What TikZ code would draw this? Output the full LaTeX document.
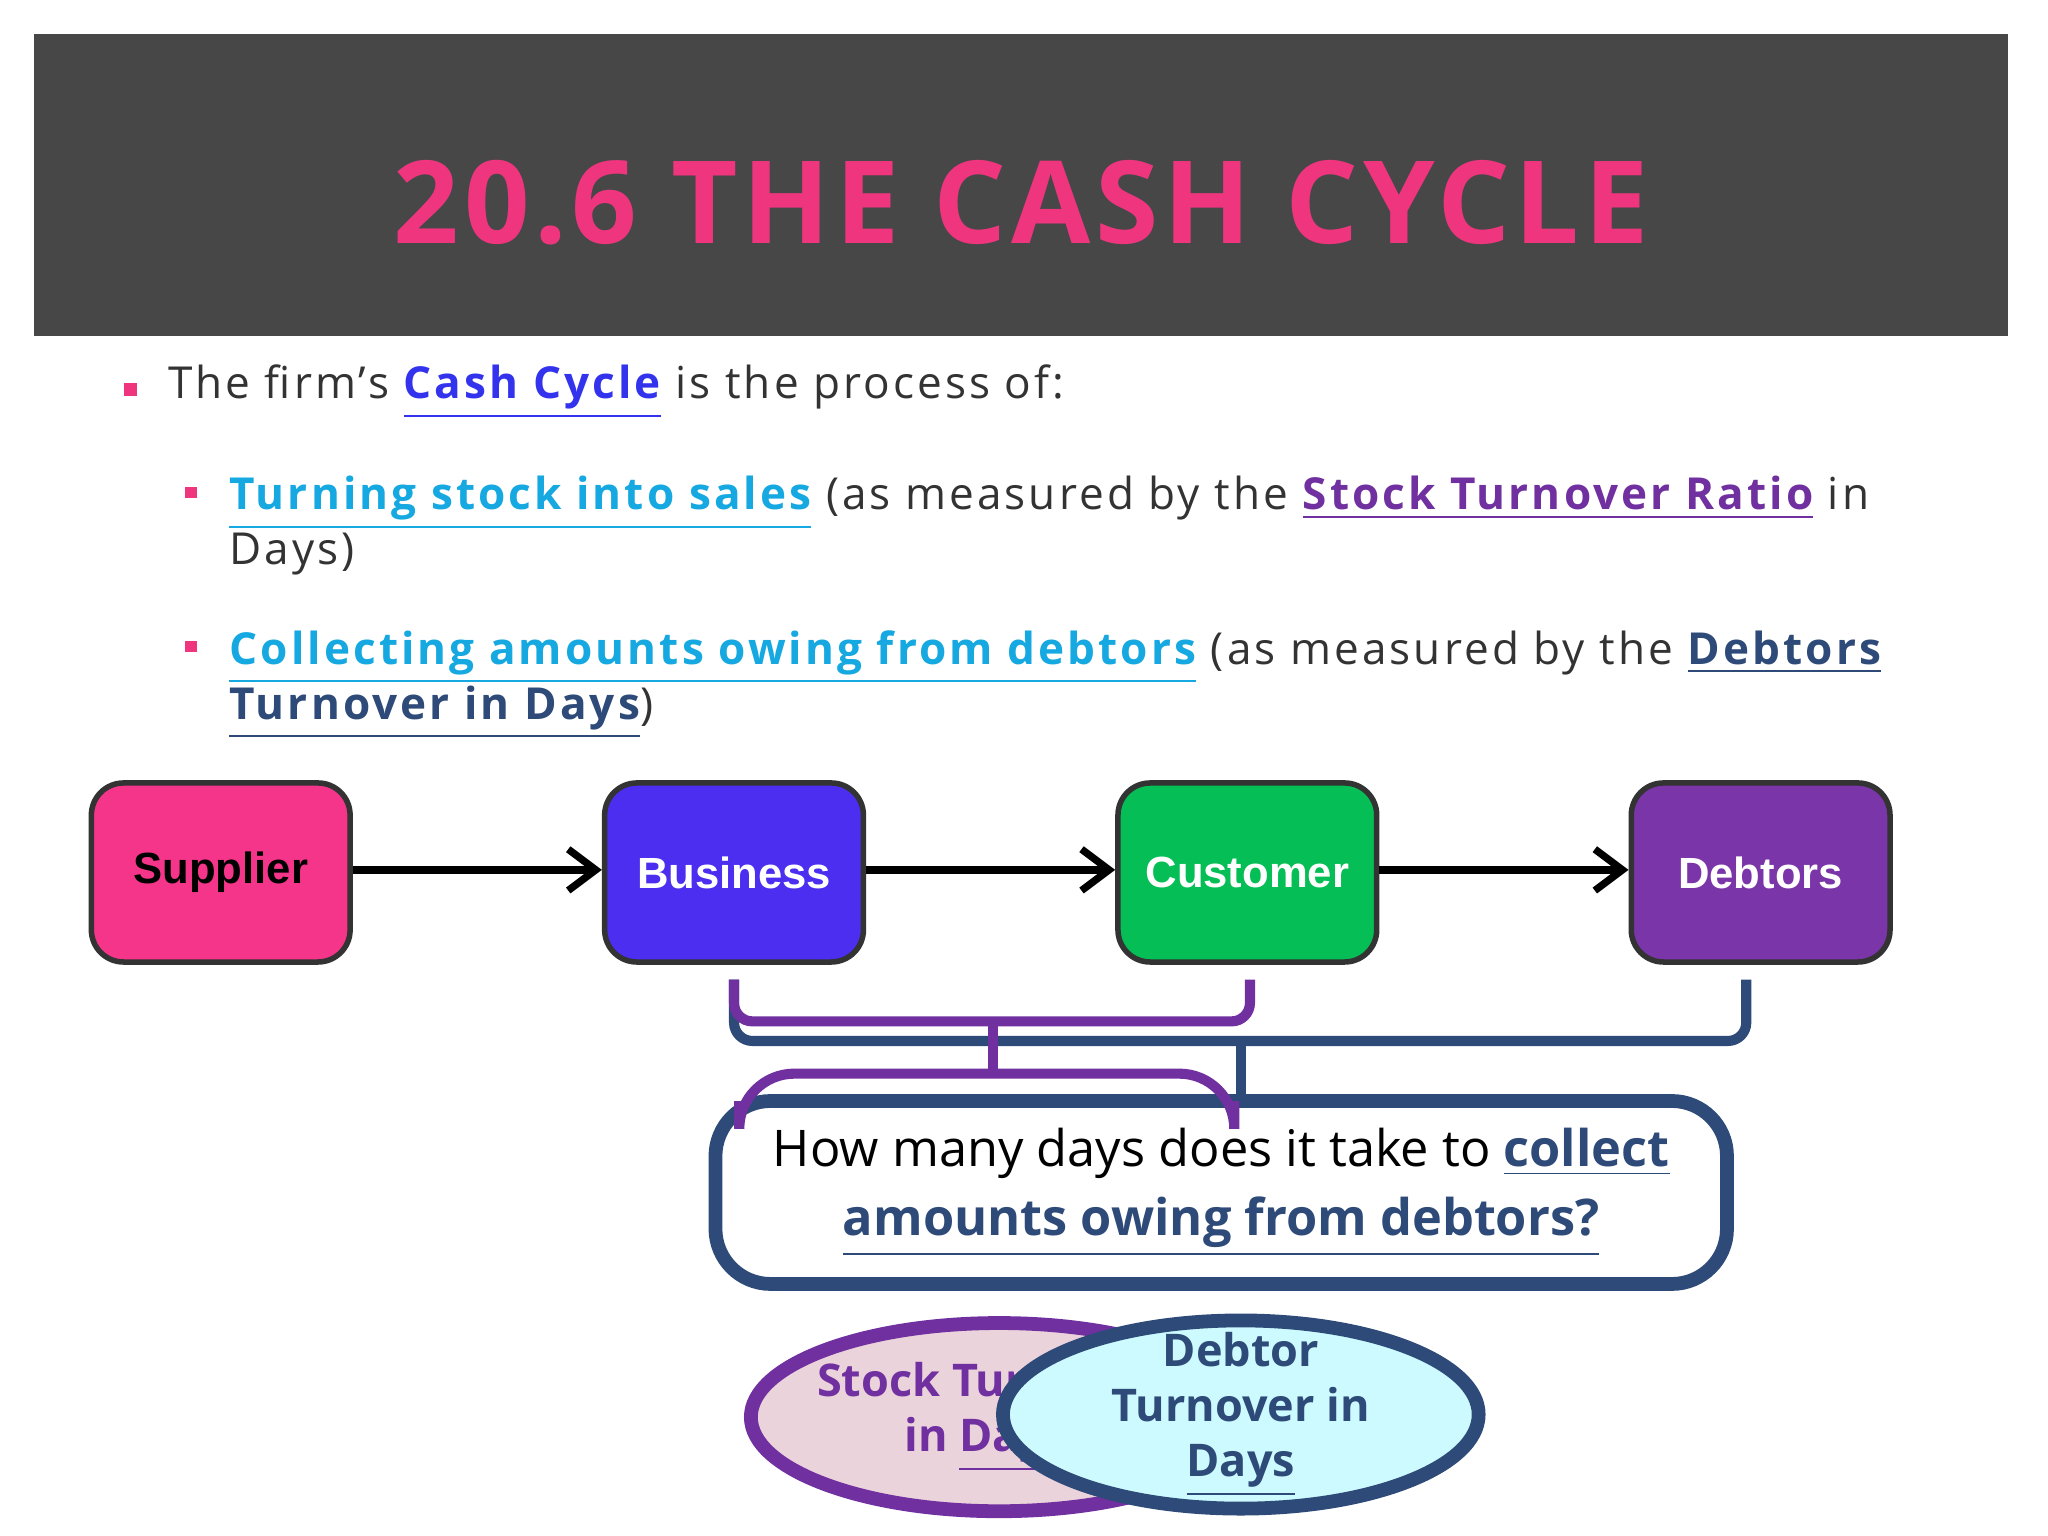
\documentclass[tikz,border=0pt]{standalone}
\usepackage{fontspec}
\setmainfont{Open Sans}
\newfontfamily\spaced[LetterSpace=7]{Open Sans}
\newfontfamily\titlefont[LetterSpace=4]{Open Sans}
\newfontfamily\boxfont{Liberation Sans}
\usetikzlibrary{positioning, arrows.meta, shapes.geometric, calc}
\definecolor{barGrey}{HTML}{474747}
\definecolor{hotPink}{HTML}{F0357F}
\definecolor{linkBlue}{HTML}{3333EE}
\definecolor{linkCyan}{HTML}{16A8E0}
\definecolor{plum}{HTML}{7030A0}
\definecolor{navy}{HTML}{2E4A78}
\definecolor{supPink}{HTML}{F5358A}
\definecolor{busBlue}{HTML}{4B2EF0}
\definecolor{cusGreen}{HTML}{05BE55}
\definecolor{debPurple}{HTML}{7A35A8}
\definecolor{rosePale}{HTML}{EBD3DC}
\definecolor{cyanPale}{HTML}{CCFAFE}
\tikzset{
    flowbox/.style={draw=black!80, line width=1.2pt, rounded corners=7pt,
      minimum width=1.98cm, minimum height=1.37cm,
      font=\boxfont\bfseries\fontsize{9.5}{12}\selectfont},
    flow/.style={-{Straight Barb[length=6pt,width=9pt]}, line width=1.6pt},
    bullet/.style={fill=hotPink, minimum size=0.1cm, inner sep=0pt},
    body/.style={anchor=west, align=left, inner sep=0pt,
      font=\spaced\fontsize{9.6}{12}\selectfont, text=black!80},
    brace/.style={line width=2.2pt, rounded corners=4pt},
    oval/.style={ellipse, line width=3pt, minimum width=3.7cm, minimum height=1.44cm, inner sep=0pt},
    ovaltext/.style={align=center, font=\bfseries\fontsize{9.8}{12}\selectfont},
}
\newcommand{\lnk}[2]{\textcolor{#1}{\bfseries\underline{#2}}}
\begin{document}
\begin{tikzpicture}[x=0.01cm, y=-0.01cm]
    \useasboundingbox[fill=white] (0,0) rectangle (1568,1176);
    \fill[barGrey] (26,26) rectangle (1537,257);
    \node[text=hotPink, font=\titlefont\bfseries\fontsize{25}{30}\selectfont] (title) at (782,155) {20.6 THE CASH CYCLE};

    % bullets
    \node[bullet] (b1) at (100,298) {};
    \node[body] (t1) at (128,300) {The firm’s \lnk{linkBlue}{Cash Cycle} is the process of:};
    \node[bullet, minimum size=0.09cm] (b2) at (146,377) {};
    \node[body, anchor=north west] (t2) at (175,364) {\lnk{linkCyan}{Turning stock into sales} (as measured by the \lnk{plum}{Stock Turnover Ratio} in\\Days)};
    \node[bullet, minimum size=0.09cm] (b3) at (146,495) {};
    \node[body, anchor=north west] (t3) at (175,482) {\lnk{linkCyan}{Collecting amounts owing from debtors} (as measured by the \lnk{navy}{Debtors}\\\lnk{navy}{Turnover in Days})};

    % flow
    \node[flowbox, fill=supPink, text=black] (sup) at (169,668) {Supplier};
    \node[flowbox, fill=busBlue, text=white] (bus) at (562,668) {Business};
    \node[flowbox, fill=cusGreen, text=white] (cus) at (955,668) {Customer};
    \node[flowbox, fill=debPurple, text=white] (deb) at (1348,668) {Debtors};
    \draw[flow] (sup.east |- 0,666) -- (bus.west |- 0,666);
    \draw[flow] (bus.east |- 0,666) -- (cus.west |- 0,666);
    \draw[flow] (cus.east |- 0,666) -- (deb.west |- 0,666);

    % question box
    \node[draw=navy, line width=3pt, rounded corners=12pt, minimum width=7.74cm, minimum height=1.4cm,
      align=center, font=\fontsize{11}{15}\selectfont] (ask) at (935,913)
      {How many days does it take to \lnk{navy}{collect}\\\lnk{navy}{amounts owing from debtors?}};

    % brackets
    \coordinate (pm) at (760,782);
    \coordinate (nm) at (950,797);
    \draw[brace, navy] (562,750) -- (562,797) -- (1337,797) -- (1337,750);
    \draw[brace, plum] (562,750) -- (562,782) -- (957,782) -- (957,750);
    \draw[brace, plum] (pm) -- (760,822);
    \draw[brace, plum, rounded corners=12pt] (566,843) -- (566,822) -- (945,822) -- (945,843);
    \draw[brace, navy] (nm) -- (ask.north -| nm);

    % ellipses
    \node[oval, draw=plum, fill=rosePale, minimum width=3.8cm] (stk) at (765,1085) {};
    \node[ovaltext, text=plum] (stktxt) at (755,1085) {Stock Turnover\\in \underline{Days}};
    \node[oval, draw=navy, fill=cyanPale, minimum width=3.64cm] (dtr) at (950,1083) {};
    \node[ovaltext, text=navy] (dtrtxt) at (dtr) {Debtor\\Turnover in\\\underline{Days}};
\end{tikzpicture}
\end{document}
